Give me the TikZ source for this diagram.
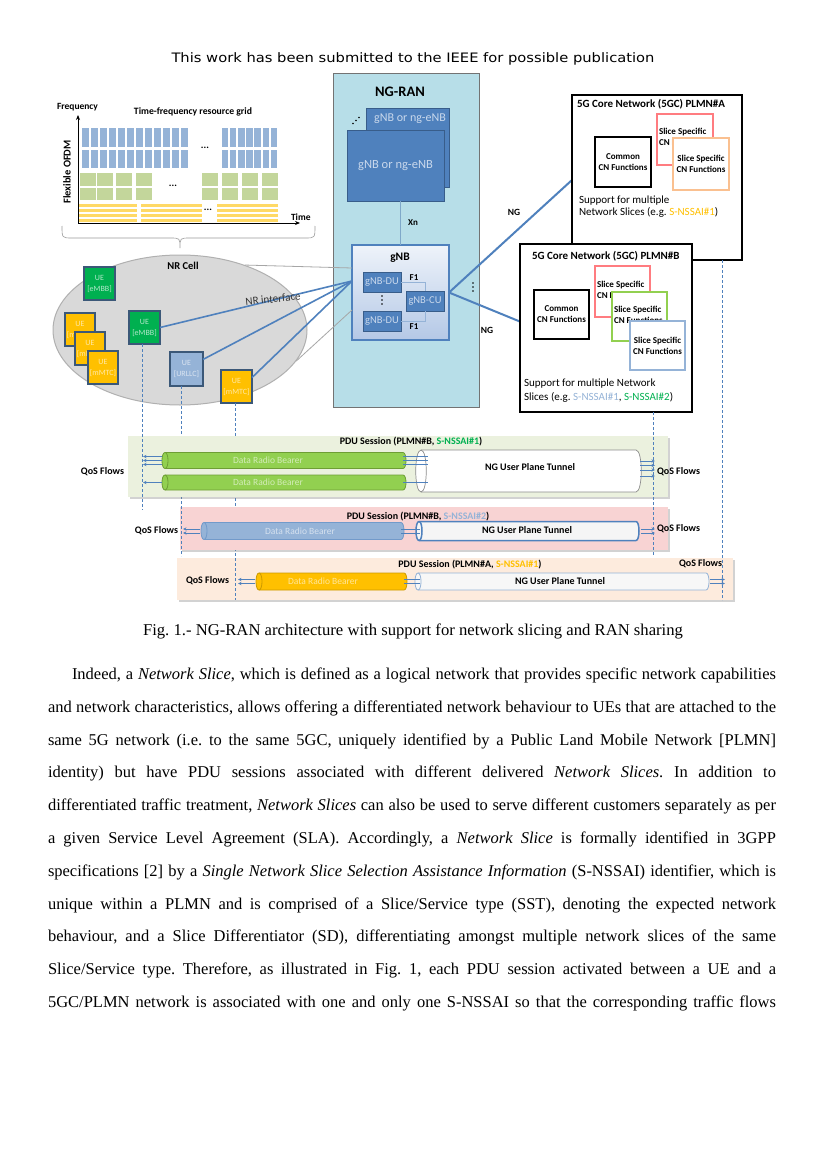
\documentclass[tikz,border=0pt]{standalone}
\usepackage{fontspec}
\usepackage{graphicx}
\setmainfont{Liberation Serif}
\newfontfamily\calf{Carlito}
\newfontfamily\verdf{DejaVu Sans}
\usetikzlibrary{arrows.meta,shapes.geometric,shadows}
\frenchspacing
\definecolor{gblue}{HTML}{4F81BD}
\definecolor{gbluedk}{HTML}{385D8A}
\definecolor{gtext}{HTML}{C9D8EC}
\definecolor{ranbg}{HTML}{B7DEE8}
\definecolor{gridblue}{HTML}{95B3D7}
\definecolor{gridgreen}{HTML}{C3D69B}
\definecolor{gridyellow}{HTML}{FFD966}
\definecolor{uegreen}{HTML}{00B050}
\definecolor{ueyellow}{HTML}{FFC000}
\definecolor{ueblue}{HTML}{95B3D7}
\definecolor{uebord}{HTML}{3B5878}
\definecolor{cellgray}{HTML}{D9D9D9}
\definecolor{cellbord}{HTML}{B0B0B0}
\definecolor{drbgreen}{HTML}{92D050}
\definecolor{drbgreendk}{HTML}{6E9E35}
\definecolor{band1}{HTML}{EBF1DE}
\definecolor{band2}{HTML}{F8D3D3}
\definecolor{band3}{HTML}{FDEBDD}
\definecolor{slred}{HTML}{FF7C80}
\definecolor{slorange}{HTML}{FAC090}
\definecolor{slgreen}{HTML}{92D050}
\definecolor{slblue}{HTML}{95B3D7}
\definecolor{snssg}{HTML}{00B050}
\definecolor{snssy}{HTML}{FFC000}
\definecolor{gnbtop}{HTML}{EEF3FA}
\definecolor{gnbbot}{HTML}{B4C8E6}
\definecolor{xncol}{HTML}{7FA8C9}
\newcommand\fs[2]{\calf\fontsize{#1}{#2}\selectfont}
\newcommand\bodyf{\fontsize{16.5}{20}\selectfont}
\newcommand\fitw[2]{\setbox0=\hbox{#2}\pgfmathsetmacro\fsx{#1/\the\wd0}\scalebox{\fsx}[1]{\box0}}
\newcommand\jline[2]{\setbox0=\hbox{#2}\ifdim\wd0>#1\relax\pgfmathsetmacro\jsx{#1/\the\wd0}\scalebox{\jsx}[1]{\box0}\else\hbox to #1{#2}\fi}
% x1 x2 yc halfheight fill draw linewidth capctrl
\newcommand\cyl[8]{%
 \filldraw[fill=#5,draw=#6,line width=#7] (#1,#3-#4) -- (#2,#3-#4) .. controls (#2+#8,#3-#4) and (#2+#8,#3+#4) .. (#2,#3+#4) -- (#1,#3+#4) .. controls (#1-#8,#3+#4) and (#1-#8,#3-#4) .. (#1,#3-#4) -- cycle;
 \draw[draw=#6,line width=#7] (#1,#3-#4) .. controls (#1+#8,#3-#4) and (#1+#8,#3+#4) .. (#1,#3+#4);}
\tikzset{
 lbl/.style={inner sep=0, outer sep=0, align=center},
 bx/.style={anchor=north west, inner sep=0, outer sep=0},
 gnbb/.style={bx, draw=gbluedk, fill=gblue, line width=0.8pt, text=gtext, font=\fs{10.5}{12}},
 ue/.style={bx, draw=uebord, line width=1.1pt, minimum width=31pt, minimum height=33pt, align=center, font=\fs{8}{11}},
 corebox/.style={bx, draw=black, line width=1.8pt, fill=white},
 cfbox/.style={bx, draw=black, line width=1.4pt, fill=white, minimum width=56pt, minimum height=50pt, align=center, font=\fs{9}{11}\bfseries},
 slbox/.style={bx, line width=1.3pt, fill=white, minimum width=56pt, minimum height=51pt, align=center, font=\fs{9}{11}\bfseries},
 sltxt/.style={inner sep=0, outer sep=0, anchor=north west, align=left, font=\fs{9}{11}\bfseries},
 nrl/.style={draw=gblue, line width=1.6pt},
 ngl/.style={draw=gblue, line width=2pt},
 dl/.style={draw=gblue, line width=0.8pt, dash pattern=on 3pt off 2pt},
 qarr/.style={draw=gblue, line width=0.7pt, -{Stealth[length=3.5pt,width=3.2pt]}},
 qln/.style={draw=gblue, line width=0.7pt},
 f1l/.style={draw=gblue!60, line width=0.7pt},
 smalltxt/.style={lbl, font=\fs{10}{12}\bfseries},
 drbtxt/.style={lbl, font=\fs{9.5}{11}},
 bandsh/.style={bx, drop shadow={shadow xshift=1.5pt, shadow yshift=-1.8pt, opacity=0.35}},
 bodyl/.style={inner sep=0, outer sep=0, anchor=base west, font=\bodyf}
}
\begin{document}
\begin{tikzpicture}[x=1pt,y=-1pt]
\useasboundingbox (0,0) rectangle (826,1169);
\fill[white] (0,0) rectangle (826,1169);

% header
\node[lbl, font=\verdf\fontsize{13}{15}\selectfont] (hdr) at (413,59) {\fitw{483pt}{This work has been submitted to the IEEE for possible publication}};

% ---------- time-frequency grid ----------
\foreach \i in {0,...,11} {
  \fill[gridblue] (82+\i*9,128) rectangle ++(7,19);
  \fill[gridblue] (82+\i*9,150) rectangle ++(7,18);
}
\foreach \i in {0,...,6} {
  \fill[gridblue] (222+\i*8.1,128) rectangle ++(6.3,19);
  \fill[gridblue] (222+\i*8.1,150) rectangle ++(6.3,18);
}
\foreach \x in {80,97,116,136,202,222,242,262} {
  \fill[gridgreen] (\x,173) rectangle ++(15.5,13);
  \fill[gridgreen] (\x,188) rectangle ++(15.5,12);
}
\foreach \y in {204,209,214,219} {
  \fill[gridyellow] (79,\y) rectangle (137,\y+3.3);
  \fill[gridyellow] (141,\y) rectangle (202,\y+3.3);
  \fill[gridyellow] (217,\y) rectangle (278,\y+3.3);
}
\node[smalltxt] (gdots1) at (205,148) {...};
\node[smalltxt] (gdots2) at (173,186) {...};
\node[smalltxt] (gdots3) at (208,210) {...};
\coordinate (orig) at (78,223);
\coordinate (yend) at (78,115);
\coordinate (xend) at (300,223);
\draw[line width=1pt, -{Stealth[length=5pt,width=4pt]}] (orig) -- (yend);
\draw[line width=1pt, -{Stealth[length=5pt,width=4pt]}] (orig) -- (xend);
\node[lbl, anchor=west, font=\fs{9.5}{11}\bfseries] (freq) at (57,107) {Frequency};
\node[lbl, font=\fs{9.7}{11}\bfseries] (tfgrid) at (193,112) {Time-frequency resource grid};
\node[lbl, anchor=west, font=\fs{9.5}{11}\bfseries] (time) at (291,217) {Time};
\node[lbl, rotate=90, font=\fs{10.5}{12}\bfseries] (fofdm) at (67,172) {Flexible OFDM};
\draw[black!40, line width=0.6pt] (62,226) .. controls (62,238) .. (72,238) -- (170,238) .. controls (180,238) .. (180,248) .. controls (180,238) .. (190,238) -- (305,238) .. controls (315,238) .. (315,226);

% ---------- NG-RAN ----------
\node[bx, draw=black!55, line width=0.8pt, fill=ranbg, minimum width=146pt, minimum height=334pt] (ngran) at (333,73) {};
\node[lbl, font=\fs{14.5}{16}\bfseries] (ngrant) at (400,92) {NG-RAN};
\node[gnbb, minimum width=83pt, minimum height=79pt] (gnbback) at (366,108) {};
\node[lbl, text=gtext, font=\fs{12}{14}] (gnbbackt) at (410,119) {gNB or ng-eNB};
\node[gnbb, minimum width=97pt, minimum height=71pt, font=\fs{12.5}{14}] (gnbfront) at (347,130) {gNB or ng-eNB};
\fill (353,123.5) circle (0.8);
\fill (356,120.5) circle (0.8);
\fill (359,117.5) circle (0.8);
\node[bx, draw=gblue, line width=1.3pt, top color=gnbtop, bottom color=gnbbot, minimum width=97pt, minimum height=95pt] (gnb) at (352,245) {};
\draw[draw=xncol, line width=0.7pt] (gnbfront.south -| gnb.north) -- (gnb.north);
\node[lbl, font=\fs{9}{10}\bfseries] (xn) at (413,223) {Xn};
\node[lbl, font=\fs{11.5}{13}\bfseries] (gnbt) at (400,258) {gNB};
\node[gnbb, minimum width=38pt, minimum height=20pt] (du1) at (363,272) {gNB-DU};
\node[gnbb, minimum width=38pt, minimum height=20pt] (du2) at (363,311) {gNB-DU};
\node[gnbb, minimum width=38pt, minimum height=20pt] (cu) at (406,291) {gNB-CU};
\draw[f1l] (du1.east) -| (cu.north);
\draw[f1l] (du2.east) -| (cu.south);
\node[lbl, font=\fs{9}{10}\bfseries] (f1a) at (414,278) {F1};
\node[lbl, font=\fs{9}{10}\bfseries] (f1b) at (414,327) {F1};
\fill (382,296) circle (0.8);
\fill (382,300) circle (0.8);
\fill (382,304) circle (0.8);
\fill (473,283) circle (0.8);
\fill (473,287) circle (0.8);
\fill (473,291) circle (0.8);

% ---------- NR cell ----------
\node[ellipse, draw=cellbord, line width=1pt, fill=cellgray, minimum width=254pt, minimum height=150pt, inner sep=0] (cell) at (180,330) {};
\coordinate (conetop) at (352,268);
\coordinate (conebot) at (352,310);
\draw[black!35, line width=0.8pt] (cell.45) -- (conetop);
\draw[black!35, line width=0.8pt] (cell.-15) -- (conebot);
\node[lbl, font=\fs{10.5}{12}\bfseries] (nrcell) at (183,266) {NR Cell};
\node[ue, fill=uegreen, text=white!70!uegreen] (ue1) at (84,267) {UE\\{[eMBB]}};
\node[ue, fill=uegreen, text=white!70!uegreen] (ue2) at (129,311) {UE\\{[eMBB]}};
\node[ue, fill=ueyellow, text=white!65!ueyellow, minimum width=30pt] (ue3) at (65,313) {UE\\{[mMTC]}};
\node[ue, fill=ueyellow, text=white!65!ueyellow, minimum width=30pt] (ue4) at (75,332) {UE\\{[mMTC]}};
\node[ue, fill=ueyellow, text=white!65!ueyellow, minimum width=30pt] (ue5) at (88,351) {UE\\{[mMTC]}};
\node[ue, fill=ueblue, text=white!65!ueblue, minimum width=33pt, minimum height=34pt] (ue6) at (170,352) {UE\\{[URLLC]}};
\node[ue, fill=ueyellow, text=white!65!ueyellow] (ue7) at (221,370) {UE\\{[mMTC]}};
\coordinate (nrin) at (352,281);
\draw[nrl] (ue2.east) -- (nrin);
\draw[nrl] (ue6.30) -- (nrin);
\draw[nrl] (ue7.30) -- (nrin);
\node[lbl, rotate=6, font=\fs{11}{12}, text=black!80] (nrif) at (273,299) {NR interface};

% ---------- NG links ----------
\coordinate (ngA) at (572,180);
\coordinate (ngB) at (521,322);
\draw[ngl] (gnb.east) -- (ngA);
\draw[ngl] (gnb.east) -- (ngB);
\node[lbl, font=\fs{9.5}{11}\bfseries] (ngl1) at (514,212) {NG};
\node[lbl, font=\fs{9.5}{11}\bfseries] (ngl2) at (487,330) {NG};

% ---------- 5GC A ----------
\node[corebox, minimum width=170pt, minimum height=165pt] (coreA) at (572,95) {};
\node[lbl, anchor=west, font=\fs{11}{13}\bfseries] (coreAt) at (577,104) {5G Core Network (5GC) PLMN\#A};
\node[cfbox] (cfA) at (595,137) {Common\\CN Functions};
\node[slbox, draw=slred] (slA1) at (657,114) {};
\node[sltxt] (slA1t) at (659,128) {Slice Specific\\CN Functions};
\node[slbox, draw=slorange, minimum height=52pt] (slA2) at (673,138) {Slice Specific\\CN Functions};
\node[lbl, anchor=north west, align=left, font=\fs{11}{11.8}] (supA) at (579,196) {Support for multiple\\Network Slices (e.g. \textcolor{snssy}{S-NSSAI\#1})};

% ---------- 5GC B ----------
\node[corebox, minimum width=172pt, minimum height=168pt] (coreB) at (520,244) {};
\node[lbl, anchor=west, font=\fs{11}{13}\bfseries] (coreBt) at (532,256) {5G Core Network (5GC) PLMN\#B};
\node[cfbox, minimum width=55pt, minimum height=49pt] (cfB) at (534,290) {Common\\CN Functions};
\node[slbox, draw=slred, minimum width=55pt] (slB1) at (595,266) {};
\node[sltxt] (slB1t) at (597,281) {Slice Specific\\CN Functions};
\node[slbox, draw=slgreen, minimum width=55pt, minimum height=49pt] (slB2) at (612,292) {};
\node[sltxt] (slB2t) at (614,306) {Slice Specific\\CN Functions};
\node[slbox, draw=slblue, minimum width=55pt, minimum height=49pt] (slB3) at (630,321) {Slice Specific\\CN Functions};
\node[lbl, anchor=north west, align=left, font=\fs{11}{13.6}] (supB) at (524,379) {Support for multiple Network\\Slices (e.g. \textcolor{slblue}{S-NSSAI\#1}, \textcolor{snssg}{S-NSSAI\#2})};

% ---------- dashed guides ----------
\coordinate (d1a) at (142,344); \coordinate (d1b) at (142,510);
\coordinate (d2a) at (181,386); \coordinate (d2b) at (181,556);
\coordinate (d3a) at (235,403); \coordinate (d3b) at (235,600);
\coordinate (d4a) at (653,412); \coordinate (d4b) at (653,555);
\coordinate (d5a) at (722,260); \coordinate (d5b) at (722,600);

% ---------- PDU session 3 ----------
\node[bandsh, fill=band3, minimum width=556pt, minimum height=42pt] (pdu3) at (177,558) {};
\node[smalltxt] (pdu3t) at (470,565) {PDU Session (PLMN\#A, \textcolor{snssy}{S-NSSAI\#1})};
\cyl{418}{706}{581.5}{8.5}{black!3}{gblue!60}{0.8pt}{4}
\cyl{259}{404}{581.5}{8.5}{ueyellow}{ueyellow!80!black}{0.8pt}{4}
\node[drbtxt, text=white!60!ueyellow] (drb3t) at (323,581.5) {Data Radio Bearer};
\node[smalltxt] (tun3t) at (560,581) {NG User Plane Tunnel};
\foreach \y in {579.5,583.5} {
  \draw[qarr] (255,\y) -- (238,\y);
  \draw[qln] (404,\y) -- (420,\y);
  \draw[qarr] (710,\y) -- (725,\y);
}
\node[smalltxt, anchor=east] (q3l) at (229,581) {QoS Flows};
\node[smalltxt, anchor=west] (q3r) at (679,564) {QoS Flows};
\draw[dl] (d3a) -- (d3b);

% ---------- PDU session 2 ----------
\node[bandsh, fill=band2, minimum width=488pt, minimum height=43pt] (pdu2) at (180,507) {};
\node[smalltxt] (pdu2t) at (418,517) {PDU Session (PLMN\#B, \textcolor{slblue}{S-NSSAI\#2})};
\cyl{419}{636}{531}{9.5}{black!4}{gblue}{1.5pt}{4}
\cyl{204}{401}{531}{8.5}{ueblue}{gblue!80}{0.8pt}{4}
\node[drbtxt, text=white!60!ueblue] (drb2t) at (300,531) {Data Radio Bearer};
\node[smalltxt] (tun2t) at (527,530) {NG User Plane Tunnel};
\foreach \y in {529,533} {
  \draw[qarr] (200,\y) -- (183,\y);
  \draw[qln] (401,\y) -- (420,\y);
  \draw[qarr] (641,\y) -- (655,\y);
}
\node[smalltxt, anchor=east] (q2l) at (178,531) {QoS Flows};
\node[smalltxt, anchor=west] (q2r) at (657,529) {QoS Flows};
\draw[dl] (d2a) -- (d2b);

% ---------- PDU session 1 ----------
\node[bandsh, fill=band1, minimum width=540pt, minimum height=61pt] (pdu1) at (128,436) {};
\node[smalltxt] (pdu1t) at (411,442) {PDU Session (PLMN\#B, \textcolor{snssg}{S-NSSAI\#1})};
\cyl{421}{636}{471}{21}{white}{black!45}{0.7pt}{7}
\cyl{165}{403}{460.5}{8}{drbgreen}{drbgreendk}{0.8pt}{4}
\cyl{165}{403}{482.5}{7.5}{drbgreen}{drbgreendk}{0.8pt}{4}
\node[drbtxt, text=white!60!drbgreen] (drb1t) at (268,460.5) {Data Radio Bearer};
\node[drbtxt, text=white!60!drbgreen] (drb1bt) at (268,482.5) {Data Radio Bearer};
\node[smalltxt] (tun1t) at (530,467) {NG User Plane Tunnel};
\foreach \y in {456.5,460.5,464.5,482.5} {
  \draw[qarr] (162,\y) -- (143,\y);
  \draw[qln] (403,\y) -- (428,\y);
}
\foreach \y in {461,465.5,470,476} {
  \draw[qarr] (640,\y) -- (655,\y);
}
\node[smalltxt, anchor=east] (q1l) at (124,472) {QoS Flows};
\node[smalltxt, anchor=west] (q1r) at (657,472) {QoS Flows};
\draw[dl] (d1a) -- (d1b);
\draw[dl] (d4a) -- (d4b);
\draw[dl] (d5a) -- (d5b);

% ---------- caption ----------
\node[lbl, font=\bodyf] (cap) at (413,631) {\fitw{540pt}{Fig. 1.- NG-RAN architecture with support for network slicing and RAN sharing}};

% ---------- body text ----------
\node[bodyl] (b1) at (72,679.5) {\jline{704pt}{Indeed, a \textit{Network Slice}, which is defined as a logical network that provides specific network capabilities}};
\node[bodyl] (b2) at (48,712.3) {\jline{728pt}{and network characteristics, allows offering a differentiated network behaviour to UEs that are attached to the}};
\node[bodyl] (b3) at (48,745.1) {\jline{728pt}{same 5G network (i.e. to the same 5GC, uniquely identified by a Public Land Mobile Network [PLMN]}};
\node[bodyl] (b4) at (48,777.9) {\jline{728pt}{identity) but have PDU sessions associated with different delivered \textit{Network Slices}. In addition to}};
\node[bodyl] (b5) at (48,810.7) {\jline{728pt}{differentiated traffic treatment, \textit{Network Slices} can also be used to serve different customers separately as per}};
\node[bodyl] (b6) at (48,843.5) {\jline{728pt}{a given Service Level Agreement (SLA). Accordingly, a \textit{Network Slice} is formally identified in 3GPP}};
\node[bodyl] (b7) at (48,876.3) {\jline{728pt}{specifications [2] by a \textit{Single Network Slice Selection Assistance Information} (S-NSSAI) identifier, which is}};
\node[bodyl] (b8) at (48,909.1) {\jline{728pt}{unique within a PLMN and is comprised of a Slice/Service type (SST), denoting the expected network}};
\node[bodyl] (b9) at (48,941.9) {\jline{728pt}{behaviour, and a Slice Differentiator (SD), differentiating amongst multiple network slices of the same}};
\node[bodyl] (b10) at (48,974.7) {\jline{728pt}{Slice/Service type. Therefore, as illustrated in Fig. 1, each PDU session activated between a UE and a}};
\node[bodyl] (b11) at (48,1007.5) {\jline{728pt}{5GC/PLMN network is associated with one and only one S-NSSAI so that the corresponding traffic flows}};
\end{tikzpicture}
\end{document}
